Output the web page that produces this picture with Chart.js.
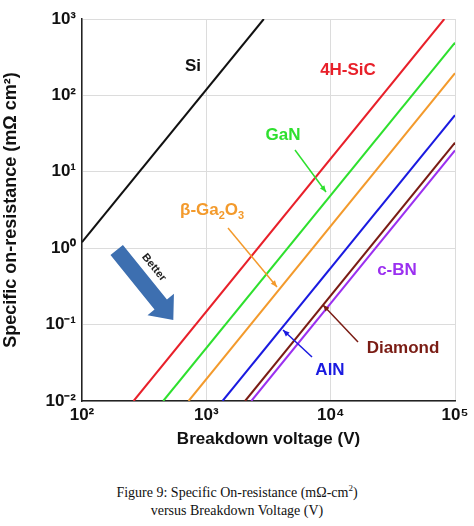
<!DOCTYPE html>
<html>
<head>
<meta charset="utf-8">
<script src="https://cdn.jsdelivr.net/npm/chart.js@4.4.0/dist/chart.umd.min.js"></script>
<style>
  body { margin: 0; background: #fff; width: 474px; }
  #wrap { width: 474px; height: 450px; }
  .cap { font-family: "Liberation Serif", serif; font-size: 14px; text-align: center; line-height: 18px; color: #111; margin-top: 29px; }
</style>
</head>
<body>
<div id="wrap"><canvas id="c"></canvas></div>
<div class="cap">Figure 9: Specific On-resistance (mΩ-cm<sup style="font-size:9px">2</sup>)<br>versus Breakdown Voltage (V)</div>
<script>
// endpoints (V, mOhm cm2)
const materials = ['Si', '4H-SiC', 'GaN', 'β-Ga2O3', 'AlN', 'Diamond', 'c-BN'];
const voltageStart = [100, 260, 450, 720, 1350, 2050, 2300];
const voltageEnd = [2900, 82000, 100000, 100000, 100000, 100000, 100000];
const ronStart = [1.2, 0.01, 0.01, 0.01, 0.01, 0.01, 0.01];
const ronEnd = [1000, 1000, 490, 195, 55, 24, 19];
const colors = ['#111111', '#e8202a', '#2ee02e', '#f39a2c', '#1a1ae0', '#7a1c14', '#9b30f0'];
const tickExp = ['⁻²', '⁻¹', '⁰', '¹', '²', '³', '⁴', '⁵'];

const sup = (n) => tickExp[n + 2];

const labels = {
  id: 'labels',
  afterDatasetsDraw(chart) {
    const ctx = chart.ctx;
    ctx.save();
    ctx.font = 'bold 17px "Liberation Sans", Arial, sans-serif';
    ctx.textAlign = 'center';
    ctx.textBaseline = 'middle';
    const txt = (t, x, y, c) => { ctx.fillStyle = c; ctx.fillText(t, x, y); };
    txt('Si', 193, 66, colors[0]);
    txt('4H-SiC', 348, 70, colors[1]);
    txt('GaN', 283, 135, colors[2]);
    txt('c-BN', 397, 270, colors[6]);
    txt('Diamond', 403, 348, colors[5]);
    txt('AlN', 330, 370, colors[4]);
    // beta-Ga2O3 with subscripts
    ctx.textAlign = 'left';
    ctx.fillStyle = colors[3];
    let x = 180;
    const parts = [['β-Ga', 0], ['2', 1], ['O', 0], ['3', 1]];
    parts.forEach(([s, sub]) => {
      ctx.font = sub ? 'bold 11px "Liberation Sans", Arial, sans-serif' : 'bold 17px "Liberation Sans", Arial, sans-serif';
      ctx.fillText(s, x, sub ? 216 : 210);
      x += ctx.measureText(s).width;
    });
    const arrow = (x1, y1, x2, y2, c) => {
      ctx.strokeStyle = c; ctx.fillStyle = c; ctx.lineWidth = 1.5;
      ctx.beginPath(); ctx.moveTo(x1, y1); ctx.lineTo(x2, y2); ctx.stroke();
      const a = Math.atan2(y2 - y1, x2 - x1);
      ctx.beginPath();
      ctx.moveTo(x2, y2);
      ctx.lineTo(x2 - 7 * Math.cos(a - 0.4), y2 - 7 * Math.sin(a - 0.4));
      ctx.lineTo(x2 - 7 * Math.cos(a + 0.4), y2 - 7 * Math.sin(a + 0.4));
      ctx.closePath(); ctx.fill();
    };
    arrow(295, 150, 326, 192, colors[2]);
    arrow(228, 228, 277, 287, colors[3]);
    arrow(312, 357, 283, 330, colors[4]);
    arrow(358, 342, 323, 305, colors[5]);
    // "Better" arrow
    ctx.translate(145, 285);
    ctx.rotate(Math.atan2(68, 55));
    ctx.fillStyle = '#3d6fb0';
    ctx.beginPath();
    ctx.moveTo(-45, -8); ctx.lineTo(25, -8); ctx.lineTo(25, -17); ctx.lineTo(45, 0);
    ctx.lineTo(25, 17); ctx.lineTo(25, 8); ctx.lineTo(-45, 8); ctx.closePath(); ctx.fill();
    ctx.fillStyle = '#222';
    ctx.font = 'bold 11px "Liberation Sans", Arial, sans-serif';
    ctx.textAlign = 'center';
    ctx.fillText('Better', -8, -18);
    ctx.restore();
  }
};

new Chart(document.getElementById('c'), {
  type: 'line',
  data: {
    datasets: materials.map((m, i) => ({
      label: m,
      data: [{ x: voltageStart[i], y: ronStart[i] }, { x: voltageEnd[i], y: ronEnd[i] }],
      borderColor: colors[i],
      borderWidth: 2,
      pointRadius: 0,
      fill: false
    }))
  },
  options: {
    responsive: true,
    maintainAspectRatio: false,
    animation: false,
    layout: { padding: { left: 0, right: 19, top: 19, bottom: 0 } },
    plugins: { legend: { display: false }, tooltip: { enabled: false } },
    scales: {
      x: {
        type: 'logarithmic', min: 100, max: 100000,
        afterBuildTicks: (s) => { s.ticks = [2, 3, 4, 5].map(e => ({ value: Math.pow(10, e) })); },
        afterFit: (s) => { s.height = 49; },
        ticks: {
          color: '#111', padding: 4,
          font: { family: '"Liberation Sans", Arial, sans-serif', size: 17, weight: 'bold' },
          callback: (v) => '10' + sup(Math.round(Math.log10(v)))
        },
        grid: { color: '#dcdcdc', tickLength: 0 },
        border: { color: '#222', width: 1.5 },
        title: {
          display: true, text: 'Breakdown voltage (V)', color: '#111', padding: 0,
          font: { family: '"Liberation Sans", Arial, sans-serif', size: 17, weight: 'bold' }
        }
      },
      y: {
        type: 'logarithmic', min: 0.01, max: 1000,
        afterBuildTicks: (s) => { s.ticks = [-2, -1, 0, 1, 2, 3].map(e => ({ value: Math.pow(10, e) })); },
        afterFit: (s) => { s.width = 82; },
        ticks: {
          color: '#111', padding: 6,
          font: { family: '"Liberation Sans", Arial, sans-serif', size: 17, weight: 'bold' },
          callback: (v) => '10' + sup(Math.round(Math.log10(v)))
        },
        grid: { color: '#dcdcdc', tickLength: 0 },
        border: { color: '#222', width: 1.5 },
        title: {
          display: true, text: 'Specific on-resistance (mΩ cm²)', color: '#111', padding: 0,
          font: { family: '"Liberation Sans", Arial, sans-serif', size: 18, weight: 'bold' }
        }
      }
    }
  },
  plugins: [labels]
});
</script>
</body>
</html>
